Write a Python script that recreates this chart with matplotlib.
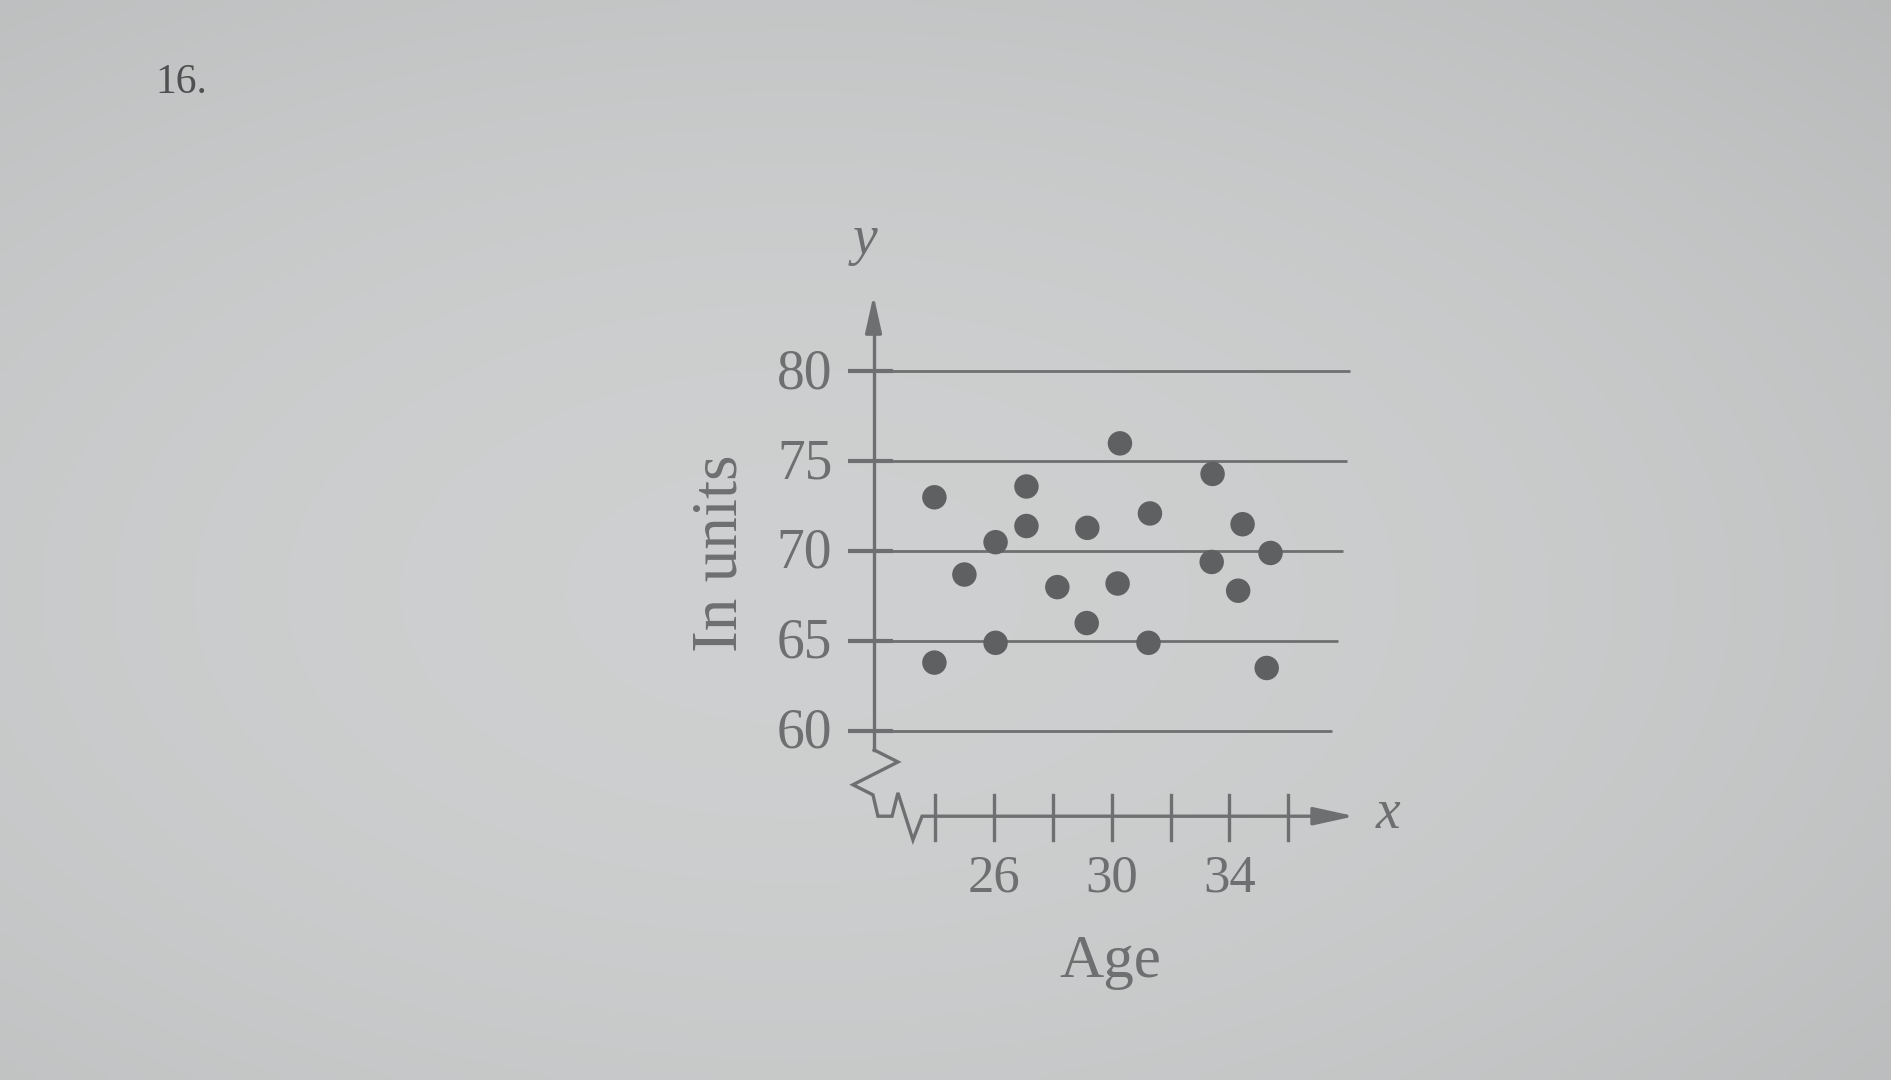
import numpy as np
import matplotlib as mpl
mpl.use('Agg')
import matplotlib.pyplot as plt

# data
ages = [23.97, 23.97, 24.99, 26.05, 26.05, 27.1, 27.1, 28.15, 29.17, 29.15,
        30.28, 30.2, 31.3, 31.25, 33.43, 33.4, 34.45, 34.3, 35.4, 35.27]
units = [73.0, 63.8, 68.7, 70.5, 64.9, 73.6, 71.4, 68.0, 71.3, 66.0,
         76.0, 68.2, 72.1, 64.9, 74.3, 69.4, 71.5, 67.8, 69.9, 63.5]
y_ticks = [60, 65, 70, 75, 80]
x_ticks = [24, 26, 28, 30, 32, 34, 36]
x_labels = {26: "26", 30: "30", 34: "34"}

ink = "#6d6f71"
dot = "#5e6062"
serif = "Liberation Serif"

fig = plt.figure(figsize=(18.91, 10.80), dpi=100)

# photo-ish grey background
bg = fig.add_axes([0, 0, 1, 1], zorder=-5)
gx, gy = np.meshgrid(np.linspace(0, 1, 200), np.linspace(0, 1, 120))
r2 = ((gx - 0.42) / 0.8) ** 2 + ((gy - 0.55) / 0.8) ** 2
shade = (208 - 22 * r2) / 255.0
img = np.dstack([shade - 0.006, shade, shade + 0.002])
bg.imshow(np.clip(img, 0, 1), aspect="auto", extent=[0, 1, 0, 1], interpolation="bicubic")
bg.axis("off")

ax = fig.add_axes([0.4324, 0.1569, 0.3110, 0.6655])
ax.set_xlim(20, 40)
ax.set_ylim(50, 90)
ax.axis("off")

yaxis_x = 21.9
xaxis_y = 55.25

# horizontal lines
right_ends = [37.5, 37.7, 37.85, 38.0, 38.1]
for lev, xe in zip(y_ticks, right_ends):
    ax.plot([yaxis_x, xe], [lev, lev], color=ink, lw=2.0, solid_capstyle="butt")
    ax.plot([21.03, 22.55], [lev, lev], color=ink, lw=3.0, solid_capstyle="butt")
    ax.text(20.5, lev - 0.15, str(lev), ha="right", va="center", fontsize=40,
            family=serif, color=ink)

# y axis with arrow
ax.plot([yaxis_x, yaxis_x], [58.94, 83.0], color=ink, lw=2.4)
ax.annotate("", xy=(yaxis_x, 84.4), xytext=(yaxis_x, 82.5),
            arrowprops=dict(arrowstyle="-|>,head_length=0.9,head_width=0.2",
                            color=ink, lw=2.4, mutation_scale=25))

# broken axis zigzag then x axis
zx = [21.92, 22.73, 21.20, 21.88, 22.05, 22.53, 22.73, 23.24, 23.55, 37.6]
zy = [58.94, 58.27, 57.0, 56.44, 55.25, 55.25, 56.55, 53.93, 55.25, 55.25]
ax.plot(zx, zy, color=ink, lw=2.4, solid_joinstyle="miter")
ax.annotate("", xy=(38.35, xaxis_y), xytext=(37.0, xaxis_y),
            arrowprops=dict(arrowstyle="-|>,head_length=1.0,head_width=0.22",
                            color=ink, lw=2.4, mutation_scale=25))

for t in x_ticks:
    ax.plot([t, t], [53.95, 56.45], color=ink, lw=2.4)
    if t in x_labels:
        ax.text(t, 51.8, x_labels[t], ha="center", va="center", fontsize=38,
                family=serif, color=ink)

ax.scatter(ages, units, s=310, color=dot, zorder=5, edgecolors="none")

ax.text(21.6, 87.3, "y", ha="center", va="center", fontsize=40,
        family=serif, style="italic", color=ink)
ax.text(39.4, 55.4, "x", ha="center", va="center", fontsize=40,
        family=serif, style="italic", color=ink)
ax.text(29.95, 47.1, "Age", ha="center", va="center", fontsize=44,
        family=serif, color=ink)
ax.text(16.7, 69.9, "In units", ha="center", va="center", fontsize=47,
        family=serif, color=ink, rotation=90)

fig.text(0.0957, 0.923, "16.", ha="center", va="center", fontsize=30,
         family=serif, color="#4e5052")

fig.savefig("out.png", dpi=100)
